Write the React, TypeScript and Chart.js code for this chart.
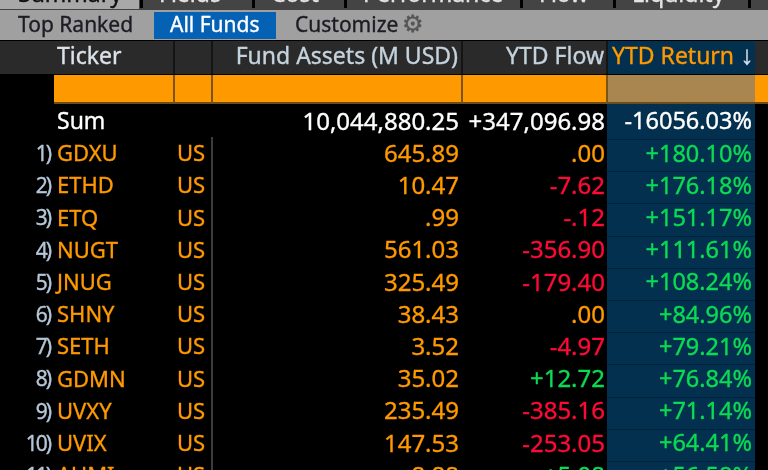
import React, { useEffect, useRef } from 'react';
import { Chart, registerables, Plugin } from 'chart.js';

Chart.register(...registerables);

// table data
const tickers = ['GDXU', 'ETHD', 'ETQ', 'NUGT', 'JNUG', 'SHNY', 'SETH', 'GDMN', 'UVXY', 'UVIX', 'AUMI'];
const countries = ['US', 'US', 'US', 'US', 'US', 'US', 'US', 'US', 'US', 'US', 'US'];
const fundAssets = [645.89, 10.47, 0.99, 561.03, 325.49, 38.43, 3.52, 35.02, 235.49, 147.53, 8.88];
const ytdFlow = [0, -7.62, -0.12, -356.9, -179.4, 0, -4.97, 12.72, -385.16, -253.05, 5.08];
const ytdReturn = [180.1, 176.18, 151.17, 111.61, 108.24, 84.96, 79.21, 76.84, 71.14, 64.41, 56.58];

const sumAssets = '10,044,880.25';
const sumFlow = '+347,096.98';
const sumReturn = '-16056.03%';

const tabs = ['Summary', 'Fields', 'Cost', 'Performance', 'Flow', 'Liquidity'];
const tabEdges = [0, 141, 253, 345, 521, 614, 749];
const subTabs = ['Top Ranked', 'All Funds', 'Customize'];

const FONT = '"Noto Sans", sans-serif';
const ORANGE = '#ff9900';
const RED = '#ff0a36';
const GREEN = '#0adb52';
const NAVY = '#03304f';

// rows sit on a linear scale: row 0 is GDXU, row -1 is the Sum line
const ROW_H = 32.2;
const ROW0_Y = 155;

const fmt = (v: number) => Math.abs(v).toFixed(2).replace(/^0\./, '.');
const fmtFlow = (v: number) => (v === 0 ? '.00' : (v > 0 ? '+' : '-') + fmt(v));
const flowColor = (v: number) => (v === 0 ? ORANGE : v > 0 ? GREEN : RED);

const column = (
  label: string,
  x: number,
  align: string,
  size: number,
  spacing: string,
  texts: string[],
  colors: string | string[]
) => ({
  label,
  data: texts.map((_, i) => ({ x, y: i })),
  texts,
  colors,
  align,
  size,
  spacing,
  pointRadius: 0,
  showLine: false,
});

const tablePlugin: Plugin<'scatter'> = {
  id: 'table',
  beforeDatasetsDraw(chart) {
    const { ctx, scales } = chart;
    const rect = (c: string, x: number, y: number, w: number, h: number) => {
      ctx.fillStyle = c;
      ctx.fillRect(x, y, w, h);
    };
    const text = (s: string, x: number, y: number, c: string, align: CanvasTextAlign = 'left', size = 23) => {
      ctx.font = `${size}px ${FONT}`;
      ctx.textAlign = align;
      ctx.textBaseline = 'middle';
      ctx.fillStyle = c;
      ctx.strokeStyle = c;
      ctx.lineWidth = 0.35;
      ctx.fillText(s, x, y);
      ctx.strokeText(s, x, y);
    };

    rect('#000', 0, 0, 768, 470);

    // top tabs, cut by the top edge
    rect('#444', 0, 0, 768, 10);
    rect('#a8a8a8', 0, 0, 139, 9);
    tabs.forEach((t, i) => {
      text(t, tabEdges[i] + 18, -5, i === 0 ? '#111' : '#e4e4e4');
      if (i > 0) rect('#000', tabEdges[i] - 1, 0, 3, 8);
    });
    rect('#000', tabEdges[6] - 1, 0, 3, 8);

    // sub tabs
    rect('#a0a0a0', 0, 10, 768, 30);
    rect('#0561b4', 154, 12, 122, 27);
    text(subTabs[0], 18, 26, '#1c1c24', 'left', 21);
    text(subTabs[1], 170, 26, '#fff', 'left', 21);
    text(subTabs[2], 295, 26, '#1c1c24', 'left', 21);
    text('\u2699', 413, 25, '#555', 'center', 24);

    // header band and filter row
    rect('#2a2a2a', 0, 41, 768, 33);
    rect(NAVY, 607, 41, 148, 33);
    rect(ORANGE, 54, 75, 714, 28);
    rect('#a98550', 607, 75, 148, 28);
    rect('#6b4d1c', 54, 102, 714, 2);

    // highlighted return column
    const y0 = 104;
    rect(NAVY, 607, y0, 148, 470 - y0);
    tickers.forEach((_, i) => {
      rect('#01233b', 607, Math.round(scales.y.getPixelForValue(i - 0.5)), 148, 1);
    });

    // column rules
    [173, 211, 461, 606].forEach((x) => {
      rect('#141414', x, 41, 2, 33);
      rect('#7a5410', x, 75, 2, 28);
    });
    rect('#3c3c3c', 211, 137, 2, 333);

    // headers
    text('Ticker', 57, 57, '#dbe3ea');
    text('Fund Assets (M USD)', 458, 57, '#c5d3de', 'right');
    text('YTD Flow', 604, 57, '#c5d3de', 'right');
    text('YTD Return', 612, 57, ORANGE);
    text('\u2193', 747, 57, '#d5e0ea', 'center', 26);

    // sum line
    const sumY = scales.y.getPixelForValue(-1);
    text('Sum', 57, sumY, '#fff');
    text(sumAssets, 459, sumY, '#fff', 'right', 24);
    text(sumFlow, 605, sumY, '#fff', 'right', 24);
    text(sumReturn, 752, sumY, '#fff', 'right', 23.5);
  },
  afterDatasetsDraw(chart) {
    const { ctx } = chart;
    ctx.textBaseline = 'middle';
    ctx.lineWidth = 0.35;
    chart.data.datasets.forEach((ds: any, d) => {
      ctx.font = `${ds.size}px ${FONT}`;
      ctx.letterSpacing = ds.spacing;
      ctx.textAlign = ds.align;
      chart.getDatasetMeta(d).data.forEach((pt, i) => {
        const c = Array.isArray(ds.colors) ? ds.colors[i] : ds.colors;
        ctx.fillStyle = c;
        ctx.strokeStyle = c;
        ctx.fillText(ds.texts[i], pt.x, pt.y);
        ctx.strokeText(ds.texts[i], pt.x, pt.y);
      });
    });
    ctx.letterSpacing = '0px';
  },
};

export default function App() {
  const canvasRef = useRef<HTMLCanvasElement>(null);

  useEffect(() => {
    document.body.style.margin = '0';
    document.body.style.background = '#000';
    const canvas = canvasRef.current;
    if (!canvas) return;

    const chart = new Chart(canvas, {
      type: 'scatter',
      data: {
        datasets: [
          column('Rank', 50, 'right', 21, '-2px', tickers.map((_, i) => `${i + 1})`), '#b4c6d8'),
          column('Ticker', 57, 'left', 22, '0px', tickers, ORANGE),
          column('Country', 177, 'left', 22, '0px', countries, ORANGE),
          column('Fund Assets', 459, 'right', 24, '0px', fundAssets.map(fmt), ORANGE),
          column('YTD Flow', 605, 'right', 24, '0px', ytdFlow.map(fmtFlow), ytdFlow.map(flowColor)),
          column('YTD Return', 752, 'right', 23.5, '0px', ytdReturn.map((v) => `+${v.toFixed(2)}%`), GREEN),
        ] as any,
      },
      options: {
        animation: false,
        responsive: false,
        devicePixelRatio: 1,
        events: [],
        layout: { padding: 0 },
        plugins: { legend: { display: false }, tooltip: { enabled: false } },
        scales: {
          x: { type: 'linear', display: false, min: 0, max: 768 },
          y: {
            type: 'linear',
            display: false,
            reverse: true,
            min: -ROW0_Y / ROW_H,
            max: (470 - ROW0_Y) / ROW_H,
          },
        },
      },
      plugins: [tablePlugin],
    });

    return () => chart.destroy();
  }, []);

  return (
    <div style={{ position: 'fixed', left: 0, top: 0, width: 768, height: 470 }}>
      <canvas ref={canvasRef} width={768} height={470} style={{ display: 'block' }} />
    </div>
  );
}
